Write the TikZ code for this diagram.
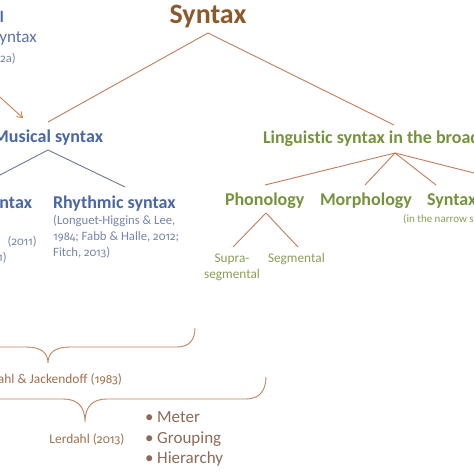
\documentclass[tikz,border=0pt]{standalone}
\usepackage{fontspec}
\setmainfont{Carlito}[Ligatures=NoCommon, RawFeature={-liga;-clig;-dlig}]
\newfontfamily\osfont{Fira Sans}[Numbers=OldStyle, Scale=0.88]
\newcommand\od[1]{{\osfont #1}}
\usetikzlibrary{arrows.meta}
\definecolor{synbrown}{HTML}{8B5A2B}
\definecolor{edgebr}{HTML}{C47D5A}
\definecolor{arrowor}{HTML}{D7804E}
\definecolor{musblue}{HTML}{4A66A6}
\definecolor{tlblue}{HTML}{5A72AA}
\definecolor{musedge}{HTML}{6E7892}
\definecolor{citblue}{HTML}{7786A8}
\definecolor{lingreen}{HTML}{76933C}
\definecolor{smgreen}{HTML}{8A9F58}
\definecolor{bracec}{HTML}{C2825F}
\definecolor{bracetxt}{HTML}{A0704F}
\definecolor{bullett}{HTML}{8C6C58}
\begin{document}
\begin{tikzpicture}[x=1pt,y=-1pt,
  title/.style={inner sep=0pt, outer sep=5pt, text height=18pt, text depth=5pt,
    font=\fontsize{28}{30}\selectfont\bfseries, text=synbrown},
  head/.style={inner sep=0pt, outer sep=0pt, text height=12pt, text depth=4pt,
    font=\fontsize{18}{20}\selectfont\bfseries},
  mushead/.style={head, text=musblue},
  linhead/.style={head, text=lingreen},
  cite/.style={inner sep=0pt, font=\fontsize{12.7}{15}\selectfont, text=citblue},
  small/.style={inner sep=0pt, outer sep=0pt, text height=9pt, text depth=3pt,
    font=\fontsize{13.3}{15}\selectfont, text=smgreen},
  narrow/.style={inner sep=0pt, font=\fontsize{11}{13}\selectfont, text=smgreen},
  bracetext/.style={inner sep=0pt, font=\fontsize{13.4}{15}\selectfont, text=bracetxt},
  bullet/.style={inner sep=0pt, font=\fontsize{17}{20}\selectfont, text=bullett},
  edge/.style={draw=edgebr, line width=0.9pt},
  musline/.style={draw=musedge, line width=0.9pt},
  bracel/.style={draw=bracec, line width=0.9pt},
  arrowline/.style={draw=arrowor, line width=0.9pt, -{Straight Barb[length=5pt,width=7pt]}}
]
\useasboundingbox (0,0) rectangle (474,474);
\fill[white] (0,0) rectangle (474,474);
\clip (0,0) rectangle (474,474);

% top-left fragments
\node[inner sep=0pt, anchor=base east, font=\fontsize{16}{18}\selectfont\bfseries, text=musblue] (tla) at (4,22) {l};
\node[inner sep=0pt, anchor=base east, font=\fontsize{17}{20}\selectfont, text=tlblue] (tlb) at (37,42) {yntax};
\node[cite, anchor=base east] (tlc) at (16,62) {\od{2}a)};
\coordinate (tlsrc) at (-20,79);

% main nodes
\node[title, anchor=base] (syn) at (208,23) {Syntax};
\node[mushead, anchor=base east] (mus) at (103,142) {Musical syntax};
\node[linhead, anchor=base west] (ling) at (263,143) {Linguis\kern0pt tic syntax in the broad sense};

% musical children
\node[mushead, anchor=base east] (harm) at (32,208) {ntax};
\node[cite, anchor=base east] (harmc1) at (37,245) {(\od{2011})};
\node[cite, anchor=base east] (harmc2) at (7,261) {\od{1})};
\node[mushead, anchor=base west] (rhy) at (53,208) {Rhythmic syntax};
\node[cite, anchor=base west] (rhyc1) at (53,224) {(Longuet-Higgins \& Lee,};
\node[cite, anchor=base west] (rhyc2) at (53,240) {\od{1984}; Fabb \& Halle, \od{2012};};
\node[cite, anchor=base west] (rhyc3) at (53,256) {Fitch, \od{2013})};

% linguistic children
\node[linhead, anchor=base west] (phon) at (225,205) {Phonology};
\node[linhead, anchor=base west] (mor) at (320,205) {Morphology};
\node[linhead, anchor=base west] (syn2) at (427,205) {Syntax};
\node[narrow, anchor=base west] (nar) at (403,222) {(in the narrow sense)};
\coordinate (lingR) at (553,193);

% phonology children
\node[small, anchor=base] (supra) at (232,262) {Supra-};
\node[small, anchor=base] (supra2) at (232,278) {segmental};
\node[small, anchor=base west] (seg) at (268,262) {Segmental};

% connectors
\draw[edge] (syn.south) -- ([xshift=-55pt,yshift=8pt]mus.north east);
\draw[edge] (syn.south) -- ([xshift=131pt,yshift=6pt]ling.north west);
\draw[arrowline] (tlsrc) -- ([xshift=-80pt,yshift=12pt]mus.north east);

\draw[musline] ([xshift=-55pt,yshift=9pt]harm.north east) -- ([xshift=-55pt,yshift=-4pt]mus.south east)
   -- ([xshift=72pt,yshift=9pt]rhy.north west);

\coordinate (lapex) at ([xshift=132pt,yshift=-6pt]ling.south west);
\draw[edge] (lapex) -- ([xshift=40pt,yshift=8pt]phon.north west);
\draw[edge] (lapex) -- ([xshift=45pt,yshift=8pt]mor.north west);
\draw[edge] (lapex) -- ([xshift=9pt,yshift=8pt]syn2.north west);
\draw[edge] (lapex) -- (lingR);

\coordinate (papex) at ([xshift=41pt,yshift=-4pt]phon.south west);
\draw[edge] (papex) -- ([xshift=1pt,yshift=6pt]supra.north);
\draw[edge] (papex) -- ([xshift=30pt,yshift=6pt]seg.north west);

% braces
\draw[bracel] (-30,347) -- (26,347) .. controls (40,347) and (48,352) .. (48,363)
   .. controls (48,352) and (56,347) .. (70,347) -- (177,347)
   .. controls (189,347) and (195,340) .. (195,328);
\node[bracetext, anchor=base] (lj) at (48,383) {Lerdahl \& Jackendoff (\od{1983})};

\draw[bracel] (-30,399) -- (63,399) .. controls (77,399) and (85,406) .. (85,422)
   .. controls (85,406) and (93,399) .. (107,399) -- (246,399)
   .. controls (259,399) and (266,391) .. (266,377);
\node[bracetext, anchor=base] (l13) at (87,443) {Lerdahl (\od{2013})};

\node[bullet, anchor=base west] (b1) at (145,422) {\makebox[12pt][l]{•}Meter};
\node[bullet, anchor=base west] (b2) at (145,443) {\makebox[12pt][l]{•}Grouping};
\node[bullet, anchor=base west] (b3) at (145,463) {\makebox[12pt][l]{•}Hierarchy};
\end{tikzpicture}
\end{document}
